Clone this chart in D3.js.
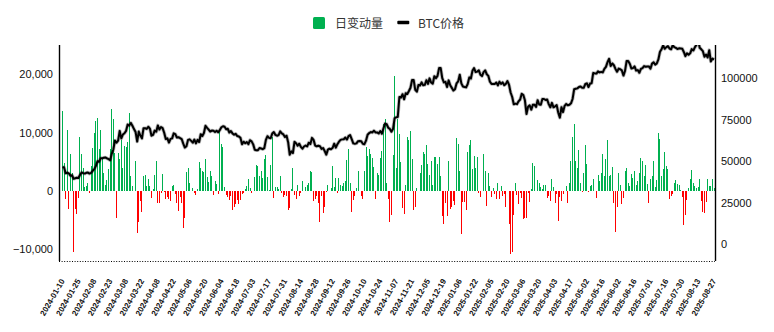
<!DOCTYPE html>
<html>
<head>
<meta charset="utf-8">
<script src="https://cdn.jsdelivr.net/npm/d3@7/dist/d3.min.js"></script>
<style>
  html, body { margin: 0; padding: 0; background: #fff; }
  svg { display: block; }
</style>
</head>
<body>
<svg id="chart" width="774" height="332"></svg>
<script>
// Date labels, one every 10 trading days
const dateTicks = [
  "2024-01-10","2024-01-25","2024-02-08","2024-02-23","2024-03-08","2024-03-22",
  "2024-04-08","2024-04-22","2024-05-06","2024-05-20","2024-06-04","2024-06-18",
  "2024-07-03","2024-07-17","2024-07-31","2024-08-14","2024-08-28","2024-09-12",
  "2024-09-26","2024-10-10","2024-10-24","2024-11-07","2024-11-21","2024-12-05",
  "2024-12-19","2025-01-06","2025-01-22","2025-02-05","2025-02-20","2025-03-06",
  "2025-03-20","2025-04-03","2025-04-17","2025-05-02","2025-05-16","2025-06-02",
  "2025-06-16","2025-07-01","2025-07-16","2025-07-30","2025-08-13","2025-08-27"
];

// Daily change, one value per trading day
const dailyChange = [
  13700, 4800, -1400, 10500, -3100, 6400, 3000, -10400, -3100, -3900,
  -1200, 9300, 6300, 3900, 600, 900, 1300, -300, 4200, 7400,
  9900, 11900, 12500, 7100, 10400, 5400, 3100, 1100, 1800, 3700,
  7200, 14100, 12400, 6500, -4700, 6500, 5400, 8800, 4000, 7700,
  7600, 8300, 13300, 2600, 900, 0, 5100, -7200, -5300, -1700,
  -3600, 2500, 2700, 900, 2000, 900, -1200, 300, 2700, 5100,
  -2000, -2000, -300, 2900, -100, -1300, -1100, -1300, -1700,
  900, 1000, -500, -2000, -3400, -1000, -2000, -6300, -4600, 3200,
  4000, 1400, 0, 500, -300, -700, 300, 4900, 3900, 3500,
  3200, 5400, 2400, 1500, 3400, 2600, -700, 1700, 1200, -500,
  10300, 8000, 7500, 600, -700, -1000, -1500, -900, -3200, -2800,
  -2300, -1500, -2200, -1500, -500, -300, 400, 800, 2000, 500,
  -300, 0, 2400, 4400, 4200, 2600, 3500, 2300, 5400, 6100,
  2400, 100, 4500, 9200, -1200, 600, 600, 300,
  2500, -300, -1000, -700, -900, -3200, -3000, 300, 4000, -700,
  -1300, 1000, -900, -400, 1700, 0, 600, 1100, 1300, 3500,
  3300, -1800, -1400, -900, -2100, -5300, -900, -3800, -2700, -200,
  1000, 0, 500, 4300, 700, 2300, -300, 2200, 1100, 900,
  1400, 1700, 5300, 7100, 1400, -3600, -1500, -900, 500, 3400,
  0, -900, -1400, 3400, 7500, 6000, 7100, 6400, 5600, 4100,
  -1400, 3000, 2800, 5600, 6800, 11400, 12400, 1300, -1300, -5400,
  -4100, 6100, 19700, 4000, 12300, 9700, 4900, -2900, -3900, 1100,
  9200, 8700, 10200, 5500, -3200, -2700, 500, 0, 3000, 4400,
  6600, 6300, 7800, 4600, 2800, 5100, 1000, 5800, 5800, 4700,
  5800, 2500, -4300, -5600, -2100, -4300, 5100, -3100, -2800, -1700,
  -2400, 9000, 8100, 3400, -7300, -1900, -1900, -3200, 6600, 7800,
  8800, 3700, 6000, 3900, 5900, -300, -1000, 0, 6400, 3400,
  -2600, 3100, 900, -1000, 500, -600, -1300, 1400, -1400,
  900, -900, -500, -2700, 0, -5600, -10800, -10400, -4100, 1300,
  -700, -2200, -400, -1200, -4800, -4700, -4600, -400, -1900, 300,
  4800, 4300, 0, 1800, 1400, 600, 300, 1000, 1000, -1200,
  -900, -1700, 2000, 600, -2100, -500, -5100, -1000, -1700, -500,
  0, 900, -2100, 1300, 5100, 9200, 11400, 5100, 3900, 7000,
  1300, -200, 3000, 7800, 4600, -200, 900, 1100, 2000, 0,
  -1200, 2700, 1700, 3000, 6300, 2500, 5400, 8700, 2600,
  2700, 4100, -2100, -7000, -2700, 3100, 1000, -2200, -1200, 3500,
  3900, 1400, 900, 2900, 2300, 3500, 1000, 1700, 3100, 5600,
  5100, 2500, 4400, 1200, -2100, 2000, 2600, 5200, 600, 1800,
  10000, 8900, 2600, 3700, 6600, 4200, 3700, -1400, -900, -500,
  1400, 1800, 1200, 1100, 200, -1000, -5800, -4100, -1500, 500,
  2000, 3600, 1300, 900, 500, 600, 2000, -1700, -3600, -3800,
  -1900, 2000, 900, 900, 2000, 500
];

// BTC price on the same trading days
const btcPrice = [
  46600, 46300, 42800, 43100, 42700, 41300, 41600, 39500, 39800, 40100,
  40000, 41800, 43300, 42900, 42600, 43100, 43200, 42600, 43100, 44300,
  45300, 47100, 50000, 49700, 51800, 51900, 52100, 52300, 51800, 51300,
  50700, 54500, 57100, 62500, 61200, 62400, 68300, 63800, 66100, 66900,
  68300, 72100, 71500, 73100, 71400, 69400, 67600, 61900, 67900, 65500,
  63800, 69900, 69900, 69500, 70800, 69700, 65400, 65900, 68500, 67800,
  71600, 69100, 70600, 70000, 67200, 63400, 63800, 61300, 63500, 63800,
  66800, 66400, 64300, 64500, 64000, 63400, 60600, 58300, 59100, 62900,
  63200, 62300, 61200, 63100, 60800, 62900, 61600, 66300, 65200, 67000,
  71400, 70100, 69100, 67900, 68500, 68400, 67600, 68400, 67500, 68800,
  70500, 71100, 70800, 69300, 69600, 67300, 68200, 66800, 66000, 66500,
  65200, 64900, 64100, 60300, 61800, 60900, 61600, 60300, 62700, 62000,
  60200, 57000, 56700, 56700, 58000, 57700, 57300, 57900, 62900, 65100,
  64100, 63900, 66700, 67600, 65900, 65400, 65800, 68000, 66800, 66200,
  64600, 65400, 61500, 54000, 56000, 55000, 61700, 60900, 59400, 60600,
  58700, 57600, 58900, 59500, 59000, 61200, 60400, 64100, 62900, 59500,
  59000, 59400, 59100, 57500, 58000, 56200, 54000, 57000, 57600, 57300,
  58100, 60600, 58200, 60300, 61800, 62900, 63200, 63300, 64300, 63100,
  65200, 65800, 63300, 60800, 60600, 60800, 62100, 62200, 62100, 60600,
  60300, 62400, 66000, 67000, 67600, 67400, 68400, 67400, 67400, 66700,
  68200, 66600, 69900, 72700, 72300, 70200, 69500, 67800, 69400, 75900,
  76500, 76700, 88700, 88300, 90400, 87300, 91000, 90500, 92300, 94300,
  98900, 98900, 93000, 91900, 95900, 95600, 97500, 95800, 96000, 98800,
  96600, 99900, 97400, 96700, 101200, 100000, 101400, 106100, 106100, 100000,
  97500, 97800, 94700, 98700, 95800, 94200, 92600, 93400, 96900, 98100,
  102100, 96900, 95000, 94700, 94500, 96500, 100500, 99800, 104500, 106100,
  103700, 104000, 104700, 102100, 101300, 103700, 104700, 102400, 101400, 97900,
  96600, 96600, 96500, 97400, 95700, 97900, 96600, 97500, 95800, 96600,
  98300, 96100, 91400, 88700, 84300, 84700, 84400, 86100, 87200, 90600,
  89900, 86700, 78500, 82900, 83700, 81100, 84000, 84100, 82700, 86800,
  84200, 84100, 87500, 87500, 86900, 87200, 84400, 82500, 85200, 82500,
  83100, 83800, 79200, 76300, 82600, 79600, 83400, 84500, 83700, 84000,
  84900, 87500, 93400, 93700, 93900, 94700, 95000, 94300, 94200, 96500,
  96900, 94700, 96800, 97000, 103200, 102900, 102800, 104100, 103500, 103800,
  103500, 105600, 106800, 109700, 111700, 107300, 108900, 107800, 105600, 103900,
  105800, 105400, 104700, 101600, 104400, 110300, 110300, 108700, 105900, 106100,
  107100, 104600, 104900, 103300, 105600, 106100, 107300, 106900, 107100, 107100,
  105700, 108800, 109600, 108200, 108900, 111300, 115900, 117500, 119800, 117700,
  118700, 119300, 117900, 117400, 119900, 118700, 118300, 117600, 118000, 117900,
  117800, 115800, 113300, 115000, 114100, 115000, 117500, 116700, 118700, 120200,
  123300, 118300, 117400, 116300, 112900, 114300, 112500, 116900, 110100, 111800,
  111200
];

const leftTicks = [-10000, 0, 10000, 20000];
const rightTicks = [0, 25000, 50000, 75000, 100000];
const leftDomain = [-12000, 25000];
const rightDomain = [-10000, 120000];
const tickEvery = 10;

const seriesNames = ["日变动量", "BTC价格"];
const colors = { up: "#00b050", down: "#ff0000", line: "#000000" };

const svg = d3.select("#chart");
const plot = { left: 59, right: 715, top: 45, bottom: 261 };

const idx = d3.range(dailyChange.length);
const x = d3.scaleBand().domain(idx).range([61.7, 714.8]).padding(0);
const yL = d3.scaleLinear().domain(leftDomain).range([plot.bottom, plot.top]);
const yR = d3.scaleLinear().domain(rightDomain).range([plot.bottom, plot.top]);
const cx = i => x(i) + x.bandwidth() / 2;

svg.append("defs").append("clipPath").attr("id", "plotClip")
  .append("rect")
  .attr("x", plot.left).attr("y", plot.top)
  .attr("width", plot.right - plot.left).attr("height", plot.bottom - plot.top);

// Bars
svg.append("g")
  .attr("shape-rendering", "crispEdges")
  .selectAll("rect")
  .data(idx.filter(i => dailyChange[i] !== 0))
  .join("rect")
  .attr("x", i => Math.round(cx(i) - 0.5))
  .attr("width", 1)
  .attr("y", i => yL(Math.max(0, dailyChange[i])))
  .attr("height", i => Math.abs(yL(dailyChange[i]) - yL(0)))
  .attr("fill", i => dailyChange[i] >= 0 ? colors.up : colors.down);

// Price line
const line = d3.line().x(i => cx(i)).y(i => yR(btcPrice[i])).curve(d3.curveLinear);
const lineG = svg.append("g").attr("clip-path", "url(#plotClip)");
lineG.append("path")
  .attr("d", line(idx))
  .attr("fill", "none")
  .attr("stroke", "rgba(0,0,0,0.28)")
  .attr("stroke-width", 3.6)
  .attr("stroke-linejoin", "round");
lineG.append("path")
  .attr("d", line(idx))
  .attr("fill", "none")
  .attr("stroke", colors.line)
  .attr("stroke-width", 2)
  .attr("stroke-linejoin", "round");

// Axes
const numFont = "'Liberation Sans', Arial, sans-serif";

const leftAxis = svg.append("g")
  .attr("transform", `translate(${plot.left},0)`)
  .call(d3.axisLeft(yL).tickValues(leftTicks).tickSize(0).tickPadding(6).tickFormat(d3.format(",")));
leftAxis.select(".domain").remove();
leftAxis.selectAll("text").attr("font-family", numFont).attr("font-size", 11).attr("fill", "#111");

const rightAxis = svg.append("g")
  .attr("transform", `translate(${plot.right},0)`)
  .call(d3.axisRight(yR).tickValues(rightTicks).tickSize(0).tickPadding(6).tickFormat(d3.format("d")));
rightAxis.select(".domain").remove();
rightAxis.selectAll("text").attr("font-family", numFont).attr("font-size", 11).attr("fill", "#111");

svg.append("line")
  .attr("x1", plot.left + 0.5).attr("x2", plot.left + 0.5)
  .attr("y1", plot.top).attr("y2", plot.bottom)
  .attr("stroke", "#000").attr("stroke-width", 1.4);
svg.append("line")
  .attr("x1", plot.right + 0.5).attr("x2", plot.right + 0.5)
  .attr("y1", plot.top).attr("y2", plot.bottom)
  .attr("stroke", "#000").attr("stroke-width", 1.4);
svg.append("line")
  .attr("x1", plot.left).attr("x2", plot.right)
  .attr("y1", plot.bottom + 0.5).attr("y2", plot.bottom + 0.5)
  .attr("stroke", "#000").attr("stroke-width", 1)
  .attr("stroke-dasharray", "1,1.6");

// Date labels
const xAxis = svg.append("g")
  .attr("transform", `translate(0,${plot.bottom})`)
  .call(d3.axisBottom(x)
    .tickValues(idx.filter(i => i % tickEvery === 0))
    .tickSize(0)
    .tickFormat(i => dateTicks[i / tickEvery]));
xAxis.select(".domain").remove();
xAxis.selectAll("text")
  .attr("font-family", numFont)
  .attr("font-size", 8)
  .attr("font-weight", "bold")
  .attr("fill", "#111")
  .attr("text-anchor", "end")
  .attr("x", 0).attr("y", 0).attr("dy", 0)
  .attr("transform", "translate(2.5,20) rotate(-60)");

// Legend
const legFont = "'Noto Sans CJK SC', 'Noto Sans', sans-serif";
const leg = svg.append("g");
leg.append("rect").attr("x", 313).attr("y", 17).attr("width", 12).attr("height", 12)
  .attr("rx", 1.5).attr("fill", colors.up);
leg.append("text").attr("x", 335).attr("y", 27.5).text(seriesNames[0])
  .attr("font-family", legFont).attr("font-size", 12).attr("fill", "#333");
leg.append("rect").attr("x", 397.3).attr("y", 20.8).attr("width", 12).attr("height", 3.4)
  .attr("rx", 1).attr("fill", colors.line);
leg.append("text").attr("x", 418).attr("y", 27.5).text(seriesNames[1])
  .attr("font-family", legFont).attr("font-size", 12).attr("fill", "#333");
</script>
</body>
</html>
